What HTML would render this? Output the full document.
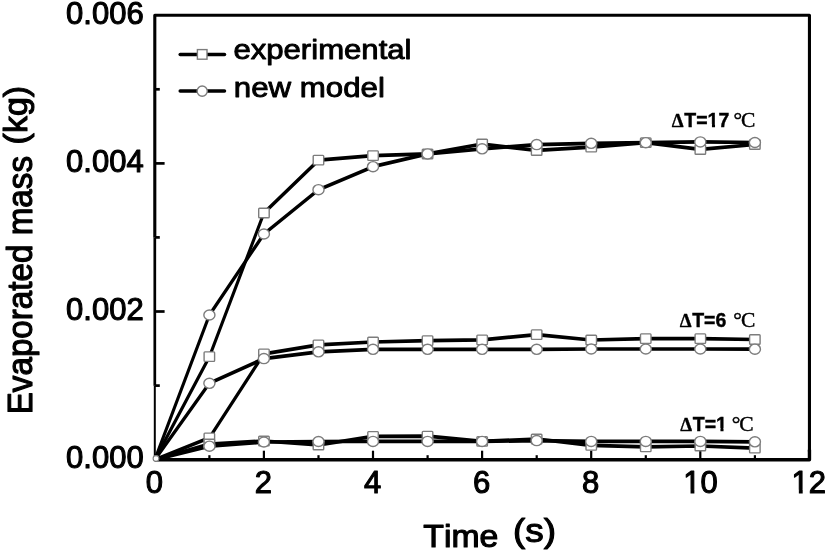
<!DOCTYPE html>
<html lang="en"><head><meta charset="utf-8"><title>Evaporated mass vs time</title>
<style>
html,body{margin:0;padding:0;background:#fff;}
body{width:827px;height:551px;overflow:hidden;}
svg{display:block;}
</style></head><body>
<svg width="827" height="551" viewBox="0 0 827 551">
<rect x="0" y="0" width="827" height="551" fill="#fff"/>
<g>
<g stroke="#000"><line x1="209.4" y1="459.7" x2="209.4" y2="455.2" stroke-width="2.2"/><line x1="263.9" y1="459.7" x2="263.9" y2="450.7" stroke-width="2.2"/><line x1="318.5" y1="459.7" x2="318.5" y2="455.2" stroke-width="2.2"/><line x1="373.0" y1="459.7" x2="373.0" y2="450.7" stroke-width="2.2"/><line x1="427.6" y1="459.7" x2="427.6" y2="455.2" stroke-width="2.2"/><line x1="482.1" y1="459.7" x2="482.1" y2="450.7" stroke-width="2.2"/><line x1="536.7" y1="459.7" x2="536.7" y2="455.2" stroke-width="2.2"/><line x1="591.2" y1="459.7" x2="591.2" y2="450.7" stroke-width="2.2"/><line x1="645.8" y1="459.7" x2="645.8" y2="455.2" stroke-width="2.2"/><line x1="700.3" y1="459.7" x2="700.3" y2="450.7" stroke-width="2.2"/><line x1="754.9" y1="459.7" x2="754.9" y2="455.2" stroke-width="2.2"/><line x1="154.8" y1="385.6" x2="159.8" y2="385.6" stroke-width="2.7"/><line x1="154.8" y1="311.5" x2="164.6" y2="311.5" stroke-width="2.7"/><line x1="154.8" y1="237.4" x2="159.8" y2="237.4" stroke-width="2.7"/><line x1="154.8" y1="163.4" x2="164.6" y2="163.4" stroke-width="2.7"/><line x1="154.8" y1="89.3" x2="159.8" y2="89.3" stroke-width="2.7"/></g>
<g transform="scale(1 1.22)" fill="none" stroke="#000" stroke-width="3.05" stroke-linejoin="round"><polyline points="154.8,376.80 209.4,292.38 263.9,174.59 318.5,131.31 373.0,127.62 427.6,126.15 482.1,118.03 536.7,123.28 591.2,120.66 645.8,116.97 700.3,122.46 754.9,118.44"/><polyline points="154.8,376.80 209.4,258.20 263.9,191.80 318.5,155.49 373.0,136.64 427.6,126.15 482.1,121.97 536.7,118.52 591.2,117.46 645.8,116.97 700.3,116.31 754.9,116.80"/><polyline points="154.8,376.80 209.4,358.85 263.9,290.00 318.5,282.62 373.0,280.33 427.6,279.26 482.1,278.61 536.7,274.26 591.2,278.69 645.8,277.62 700.3,277.62 754.9,278.28"/><polyline points="154.8,376.80 209.4,314.18 263.9,293.93 318.5,288.36 373.0,286.31 427.6,286.31 482.1,286.31 536.7,286.31 591.2,286.07 645.8,286.07 700.3,286.07 754.9,286.23"/><polyline points="154.8,376.80 209.4,363.93 263.9,361.48 318.5,364.75 373.0,357.62 427.6,357.46 482.1,361.80 536.7,359.84 591.2,365.08 645.8,366.23 700.3,365.57 754.9,367.38"/><polyline points="154.8,376.80 209.4,365.74 263.9,362.30 318.5,361.89 373.0,361.80 427.6,361.80 482.1,361.80 536.7,361.15 591.2,361.80 645.8,361.80 700.3,361.80 754.9,362.13"/></g>
<g fill="#fff" stroke="#7c7c7c" stroke-width="1.4"><rect x="204.1" y="351.9" width="10.5" height="9.5" rx="0.8"/><rect x="258.7" y="208.2" width="10.5" height="9.5" rx="0.8"/><rect x="313.2" y="155.4" width="10.5" height="9.5" rx="0.8"/><rect x="367.8" y="150.9" width="10.5" height="9.5" rx="0.8"/><rect x="422.3" y="149.2" width="10.5" height="9.5" rx="0.8"/><rect x="476.9" y="139.2" width="10.5" height="9.5" rx="0.8"/><rect x="531.4" y="145.7" width="10.5" height="9.5" rx="0.8"/><rect x="586.0" y="142.4" width="10.5" height="9.5" rx="0.8"/><rect x="640.5" y="137.9" width="10.5" height="9.5" rx="0.8"/><rect x="695.1" y="144.7" width="10.5" height="9.5" rx="0.8"/><rect x="749.6" y="139.8" width="10.5" height="9.5" rx="0.8"/><rect x="204.1" y="433.1" width="10.5" height="9.5" rx="0.8"/><rect x="258.7" y="349.1" width="10.5" height="9.5" rx="0.8"/><rect x="313.2" y="340.1" width="10.5" height="9.5" rx="0.8"/><rect x="367.8" y="337.2" width="10.5" height="9.5" rx="0.8"/><rect x="422.3" y="335.9" width="10.5" height="9.5" rx="0.8"/><rect x="476.9" y="335.1" width="10.5" height="9.5" rx="0.8"/><rect x="531.4" y="329.9" width="10.5" height="9.5" rx="0.8"/><rect x="586.0" y="335.2" width="10.5" height="9.5" rx="0.8"/><rect x="640.5" y="333.9" width="10.5" height="9.5" rx="0.8"/><rect x="695.1" y="333.9" width="10.5" height="9.5" rx="0.8"/><rect x="749.6" y="334.8" width="10.5" height="9.5" rx="0.8"/><rect x="204.1" y="439.2" width="10.5" height="9.5" rx="0.8"/><rect x="258.7" y="436.2" width="10.5" height="9.5" rx="0.8"/><rect x="313.2" y="440.2" width="10.5" height="9.5" rx="0.8"/><rect x="367.8" y="431.6" width="10.5" height="9.5" rx="0.8"/><rect x="422.3" y="431.4" width="10.5" height="9.5" rx="0.8"/><rect x="476.9" y="436.6" width="10.5" height="9.5" rx="0.8"/><rect x="531.4" y="434.2" width="10.5" height="9.5" rx="0.8"/><rect x="586.0" y="440.6" width="10.5" height="9.5" rx="0.8"/><rect x="640.5" y="442.1" width="10.5" height="9.5" rx="0.8"/><rect x="695.1" y="441.2" width="10.5" height="9.5" rx="0.8"/><rect x="749.6" y="443.4" width="10.5" height="9.5" rx="0.8"/><ellipse cx="209.4" cy="315.0" rx="5.55" ry="5.05"/><ellipse cx="263.9" cy="234.0" rx="5.55" ry="5.05"/><ellipse cx="318.5" cy="189.7" rx="5.55" ry="5.05"/><ellipse cx="373.0" cy="166.7" rx="5.55" ry="5.05"/><ellipse cx="427.6" cy="153.9" rx="5.55" ry="5.05"/><ellipse cx="482.1" cy="148.8" rx="5.55" ry="5.05"/><ellipse cx="536.7" cy="144.6" rx="5.55" ry="5.05"/><ellipse cx="591.2" cy="143.3" rx="5.55" ry="5.05"/><ellipse cx="645.8" cy="142.7" rx="5.55" ry="5.05"/><ellipse cx="700.3" cy="141.9" rx="5.55" ry="5.05"/><ellipse cx="754.9" cy="142.5" rx="5.55" ry="5.05"/><ellipse cx="209.4" cy="383.3" rx="5.55" ry="5.05"/><ellipse cx="263.9" cy="358.6" rx="5.55" ry="5.05"/><ellipse cx="318.5" cy="351.8" rx="5.55" ry="5.05"/><ellipse cx="373.0" cy="349.3" rx="5.55" ry="5.05"/><ellipse cx="427.6" cy="349.3" rx="5.55" ry="5.05"/><ellipse cx="482.1" cy="349.3" rx="5.55" ry="5.05"/><ellipse cx="536.7" cy="349.3" rx="5.55" ry="5.05"/><ellipse cx="591.2" cy="349.0" rx="5.55" ry="5.05"/><ellipse cx="645.8" cy="349.0" rx="5.55" ry="5.05"/><ellipse cx="700.3" cy="349.0" rx="5.55" ry="5.05"/><ellipse cx="754.9" cy="349.2" rx="5.55" ry="5.05"/><ellipse cx="209.4" cy="446.2" rx="5.55" ry="5.05"/><ellipse cx="263.9" cy="442.0" rx="5.55" ry="5.05"/><ellipse cx="318.5" cy="441.5" rx="5.55" ry="5.05"/><ellipse cx="373.0" cy="441.4" rx="5.55" ry="5.05"/><ellipse cx="427.6" cy="441.4" rx="5.55" ry="5.05"/><ellipse cx="482.1" cy="441.4" rx="5.55" ry="5.05"/><ellipse cx="536.7" cy="440.6" rx="5.55" ry="5.05"/><ellipse cx="591.2" cy="441.4" rx="5.55" ry="5.05"/><ellipse cx="645.8" cy="441.4" rx="5.55" ry="5.05"/><ellipse cx="700.3" cy="441.4" rx="5.55" ry="5.05"/><ellipse cx="754.9" cy="441.8" rx="5.55" ry="5.05"/></g>
<polyline fill="none" stroke="#000" stroke-width="3.1" stroke-linejoin="round" points="154.80,237.40 154.80,15.20 809.45,15.20 809.45,451.70"/><polyline fill="none" stroke="#000" stroke-width="3.4" stroke-linejoin="round" points="809.45,449.70 809.45,459.70 154.80,459.70"/><line x1="154.80" y1="237.40" x2="154.80" y2="385.80" stroke="#000" stroke-width="2.7"/><line x1="154.80" y1="385.80" x2="154.80" y2="460.70" stroke="#000" stroke-width="2.0"/><circle cx="156.0" cy="458.5" r="2.9" fill="#fff" stroke="#7c7c7c" stroke-width="1.1"/>
<line x1="180.2" y1="54.4" x2="224.5" y2="54.4" stroke="#000" stroke-width="3.5" stroke-linecap="round"/><rect x="197.4" y="49.6" width="9.6" height="9.6" fill="#fff" stroke="#7c7c7c" stroke-width="1.4"/><line x1="180.2" y1="91.1" x2="224.5" y2="91.1" stroke="#000" stroke-width="3.5" stroke-linecap="round"/><circle cx="202.2" cy="91.1" r="5.1" fill="#fff" stroke="#7c7c7c" stroke-width="1.4"/>
<g transform="translate(233.40 59.40) scale(1.1400 1.0000)"><text font-family="&quot;Liberation Sans&quot;, Arial, Helvetica, sans-serif" font-size="27.3" font-weight="normal" text-anchor="start" fill="#000" style="font-kerning:none" stroke="#000" stroke-width="0.9" stroke-linejoin="round">experimental</text></g><g transform="translate(233.80 96.60) scale(1.1450 1.0000)"><text font-family="&quot;Liberation Sans&quot;, Arial, Helvetica, sans-serif" font-size="27.3" font-weight="normal" text-anchor="start" fill="#000" style="font-kerning:none" stroke="#000" stroke-width="0.9" stroke-linejoin="round">new model</text></g>
<g transform="translate(143.70 468.10) scale(1.0000 1.0000)"><text font-family="&quot;Liberation Sans&quot;, Arial, Helvetica, sans-serif" font-size="31" font-weight="normal" text-anchor="end" fill="#000" style="font-kerning:none" stroke="#000" stroke-width="1.1" stroke-linejoin="round">0.000</text></g><g transform="translate(143.70 319.93) scale(1.0000 1.0000)"><text font-family="&quot;Liberation Sans&quot;, Arial, Helvetica, sans-serif" font-size="31" font-weight="normal" text-anchor="end" fill="#000" style="font-kerning:none" stroke="#000" stroke-width="1.1" stroke-linejoin="round">0.002</text></g><g transform="translate(143.70 171.77) scale(1.0000 1.0000)"><text font-family="&quot;Liberation Sans&quot;, Arial, Helvetica, sans-serif" font-size="31" font-weight="normal" text-anchor="end" fill="#000" style="font-kerning:none" stroke="#000" stroke-width="1.1" stroke-linejoin="round">0.004</text></g><g transform="translate(143.70 23.60) scale(1.0000 1.0000)"><text font-family="&quot;Liberation Sans&quot;, Arial, Helvetica, sans-serif" font-size="31" font-weight="normal" text-anchor="end" fill="#000" style="font-kerning:none" stroke="#000" stroke-width="1.1" stroke-linejoin="round">0.006</text></g>
<g transform="translate(154.30 493.40) scale(1.0000 1.0000)"><text font-family="&quot;Liberation Sans&quot;, Arial, Helvetica, sans-serif" font-size="31" font-weight="normal" text-anchor="middle" fill="#000" style="font-kerning:none" stroke="#000" stroke-width="1.1" stroke-linejoin="round">0</text></g><g transform="translate(263.41 493.40) scale(1.0000 1.0000)"><text font-family="&quot;Liberation Sans&quot;, Arial, Helvetica, sans-serif" font-size="31" font-weight="normal" text-anchor="middle" fill="#000" style="font-kerning:none" stroke="#000" stroke-width="1.1" stroke-linejoin="round">2</text></g><g transform="translate(372.52 493.40) scale(1.0000 1.0000)"><text font-family="&quot;Liberation Sans&quot;, Arial, Helvetica, sans-serif" font-size="31" font-weight="normal" text-anchor="middle" fill="#000" style="font-kerning:none" stroke="#000" stroke-width="1.1" stroke-linejoin="round">4</text></g><g transform="translate(481.63 493.40) scale(1.0000 1.0000)"><text font-family="&quot;Liberation Sans&quot;, Arial, Helvetica, sans-serif" font-size="31" font-weight="normal" text-anchor="middle" fill="#000" style="font-kerning:none" stroke="#000" stroke-width="1.1" stroke-linejoin="round">6</text></g><g transform="translate(590.73 493.40) scale(1.0000 1.0000)"><text font-family="&quot;Liberation Sans&quot;, Arial, Helvetica, sans-serif" font-size="31" font-weight="normal" text-anchor="middle" fill="#000" style="font-kerning:none" stroke="#000" stroke-width="1.1" stroke-linejoin="round">8</text></g><g transform="translate(700.54 493.40) scale(1.0000 1.0000)"><text font-family="&quot;Liberation Sans&quot;, Arial, Helvetica, sans-serif" font-size="31" font-weight="normal" text-anchor="middle" fill="#000" style="font-kerning:none" stroke="#000" stroke-width="1.1" stroke-linejoin="round">10</text><rect x="-16.03" y="-3.57" width="6.03" height="5.72" fill="#fff"/><rect x="-6.16" y="-3.57" width="5.79" height="5.72" fill="#fff"/></g><g transform="translate(808.85 493.40) scale(1.0000 1.0000)"><text font-family="&quot;Liberation Sans&quot;, Arial, Helvetica, sans-serif" font-size="31" font-weight="normal" text-anchor="middle" fill="#000" style="font-kerning:none" stroke="#000" stroke-width="1.1" stroke-linejoin="round">12</text><rect x="-16.03" y="-3.57" width="6.03" height="5.72" fill="#fff"/><rect x="-6.16" y="-3.57" width="5.79" height="5.72" fill="#fff"/></g>
<g transform="translate(423.30 546.80) scale(1.0900 1.0000)"><text font-family="&quot;Liberation Sans&quot;, Arial, Helvetica, sans-serif" font-size="31" font-weight="normal" text-anchor="start" fill="#000" style="font-kerning:none" stroke="#000" stroke-width="1.1" stroke-linejoin="round">Time</text></g><g transform="translate(513.00 542.00) scale(1.1200 0.9850)"><text font-family="&quot;Liberation Sans&quot;, Arial, Helvetica, sans-serif" font-size="33" font-weight="normal" text-anchor="start" fill="#000" style="font-kerning:none" stroke="#000" stroke-width="1.1" stroke-linejoin="round">(s)</text></g><g transform="translate(31.90 414.30) rotate(-90) scale(1.0000 1.0800)"><text font-family="&quot;Liberation Sans&quot;, Arial, Helvetica, sans-serif" font-size="33.2" font-weight="normal" text-anchor="start" fill="#000" style="font-kerning:none" stroke="#000" stroke-width="1.1" stroke-linejoin="round">Evaporated mass</text></g><g transform="translate(27.20 144.40) rotate(-90) scale(1.0000 0.9900)"><text font-family="&quot;Liberation Sans&quot;, Arial, Helvetica, sans-serif" font-size="34" font-weight="normal" text-anchor="start" fill="#000" style="font-kerning:none" stroke="#000" stroke-width="1.1" stroke-linejoin="round">(kg)</text></g>
<g transform="translate(671.65 127.00) scale(1.0600 1.0000)"><text font-family="&quot;Liberation Serif&quot;, &quot;Times New Roman&quot;, serif" font-size="17.8" font-weight="bold" text-anchor="start" fill="#000" style="font-kerning:none" stroke="#000" stroke-width="0.3">Δ</text></g><g transform="translate(684.30 127.00) scale(1.0000 1.0500)"><text font-family="&quot;Liberation Sans&quot;, Arial, Helvetica, sans-serif" font-size="19.5" font-weight="bold" text-anchor="start" fill="#000" style="font-kerning:none" stroke="#000" stroke-width="0.4">T=17</text><rect x="23.73" y="-2.89" width="3.92" height="4.69" fill="#fff"/><rect x="30.73" y="-2.89" width="3.68" height="4.69" fill="#fff"/></g><g transform="translate(733.40 127.00) scale(1.0000 1.0000)"><text font-family="&quot;Liberation Serif&quot;, &quot;Times New Roman&quot;, serif" font-size="21.5" font-weight="normal" text-anchor="start" fill="#000" style="font-kerning:none" stroke="#000" stroke-width="0.45">°<tspan dx="-1">C</tspan></text></g><g transform="translate(679.65 326.70) scale(1.0600 1.0000)"><text font-family="&quot;Liberation Serif&quot;, &quot;Times New Roman&quot;, serif" font-size="17.8" font-weight="bold" text-anchor="start" fill="#000" style="font-kerning:none" stroke="#000" stroke-width="0.3">Δ</text></g><g transform="translate(692.20 326.70) scale(1.0000 1.0500)"><text font-family="&quot;Liberation Sans&quot;, Arial, Helvetica, sans-serif" font-size="19.5" font-weight="bold" text-anchor="start" fill="#000" style="font-kerning:none" stroke="#000" stroke-width="0.4">T=6</text></g><g transform="translate(733.30 326.70) scale(1.0000 1.0000)"><text font-family="&quot;Liberation Serif&quot;, &quot;Times New Roman&quot;, serif" font-size="21.5" font-weight="normal" text-anchor="start" fill="#000" style="font-kerning:none" stroke="#000" stroke-width="0.45">°<tspan dx="-1">C</tspan></text></g><g transform="translate(680.15 431.00) scale(1.0600 1.0000)"><text font-family="&quot;Liberation Serif&quot;, &quot;Times New Roman&quot;, serif" font-size="17.8" font-weight="bold" text-anchor="start" fill="#000" style="font-kerning:none" stroke="#000" stroke-width="0.3">Δ</text></g><g transform="translate(692.80 431.00) scale(1.0000 1.0500)"><text font-family="&quot;Liberation Sans&quot;, Arial, Helvetica, sans-serif" font-size="19.5" font-weight="bold" text-anchor="start" fill="#000" style="font-kerning:none" stroke="#000" stroke-width="0.4">T=1</text><rect x="23.73" y="-2.89" width="3.92" height="4.69" fill="#fff"/><rect x="30.73" y="-2.89" width="3.68" height="4.69" fill="#fff"/></g><g transform="translate(731.70 431.00) scale(1.0000 1.0000)"><text font-family="&quot;Liberation Serif&quot;, &quot;Times New Roman&quot;, serif" font-size="21.5" font-weight="normal" text-anchor="start" fill="#000" style="font-kerning:none" stroke="#000" stroke-width="0.45">°<tspan dx="-1">C</tspan></text></g>
</g>
</svg>
</body></html>
